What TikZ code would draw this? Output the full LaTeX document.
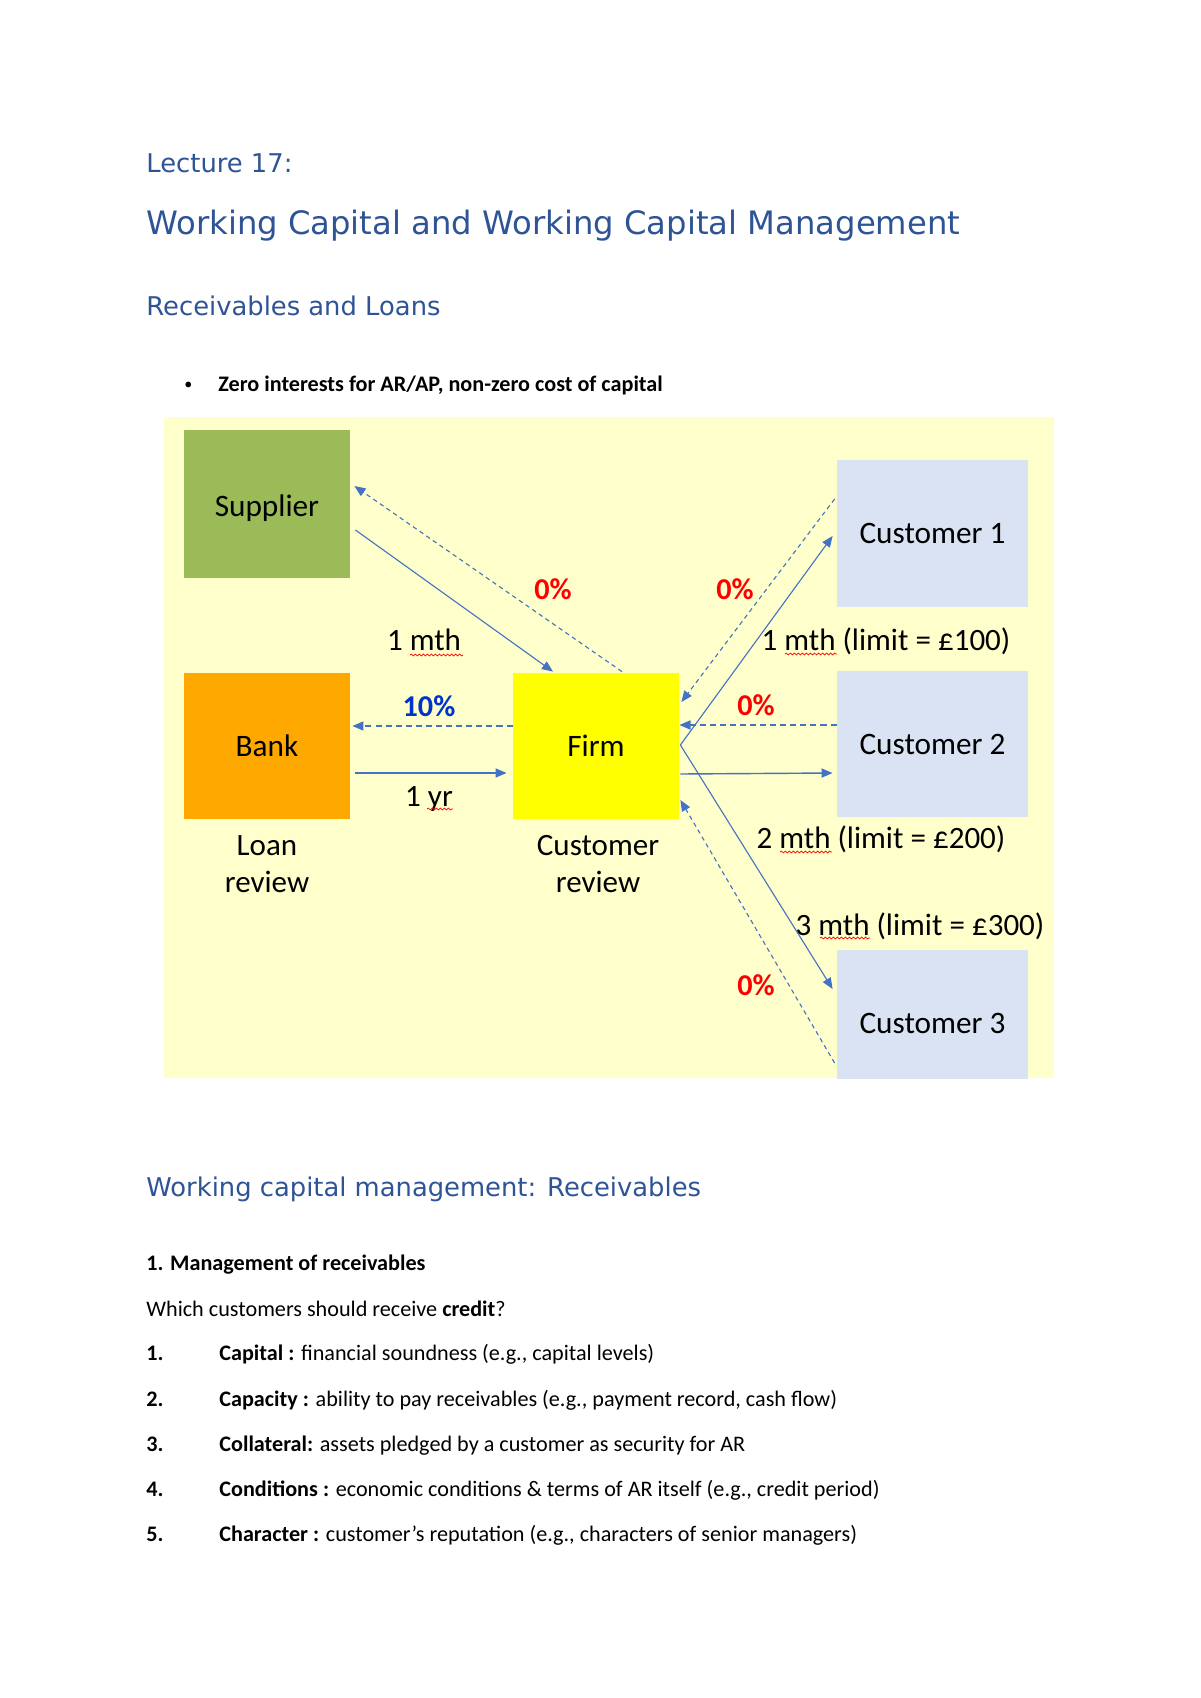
\documentclass[tikz,border=0pt]{standalone}
\usepackage{fontspec}
\setmainfont{Carlito}
\newfontfamily\headfont{DejaVu Sans}
\usetikzlibrary{arrows.meta,decorations.pathmorphing}
\definecolor{headblue}{HTML}{2F5496}
\definecolor{bgyellow}{HTML}{FFFFCC}
\definecolor{supgreen}{HTML}{9BBB59}
\definecolor{bankorange}{HTML}{FFA800}
\definecolor{firmyellow}{HTML}{FFFF00}
\definecolor{custblue}{HTML}{DAE3F3}
\definecolor{linkblue}{HTML}{4472C4}
\definecolor{pctblue}{HTML}{0033CC}
\begin{document}
\begin{tikzpicture}[x=0.49608pt,y=-0.49608pt,
  box/.style={draw=none, inner sep=0pt, font=\fontsize{15.5}{18}\selectfont, text=black},
  supbox/.style={box, minimum width=82.35pt, minimum height=73.4pt},
  sqbox/.style={box, minimum width=82.35pt, minimum height=72.4pt},
  custbox/.style={box, fill=custblue, minimum width=94.75pt, minimum height=72.9pt},
  lbl/.style={inner sep=0pt, anchor=base, font=\fontsize{15.4}{18}\selectfont},
  pct/.style={inner sep=0pt, anchor=base, font=\fontsize{15}{18}\selectfont\bfseries},
  link/.style={draw=linkblue, line width=0.7pt, -{Triangle[length=5.5pt,width=4.5pt]}},
  dlink/.style={link, dash pattern=on 3pt off 2pt},
  diag/.style={link, line width=0.55pt},
  ddiag/.style={diag, dash pattern=on 2.2pt off 1.8pt},
  squig/.style={draw=red, line width=0.35pt, decorate, decoration={snake, amplitude=0.45pt, segment length=2pt}},
  head/.style={inner sep=0pt, anchor=base west, text=headblue},
  body/.style={inner sep=0pt, anchor=base west, font=\fontsize{11}{13}\selectfont}
]
\fill[white] (0,0) rectangle (1200,1698);
\path[use as bounding box] (0,0) rectangle (1200,1698);

% headings
\node[head, font=\headfont\fontsize{12.8}{15}\selectfont] (lec) at (146,173) {Lecture 17:};
\node[head, font=\headfont\fontsize{16}{19}\selectfont] (title) at (146,235) {Working Capital and Working Capital Management};
\node[head, font=\headfont\fontsize{12.8}{15}\selectfont] (h2) at (146,316) {Receivables and Loans};
\node[body, font=\fontsize{8}{10}\selectfont] (bul) at (184,390) {•};
\node[body, font=\fontsize{11}{13}\selectfont\bfseries] (bultxt) at (218,392) {Zero interests for AR/AP, non-zero cost of capital};

% diagram background
\fill[bgyellow] (164,417) rectangle (1054,1078);

% boxes
\node[supbox, fill=supgreen] (sup) at (267,504) {\raisebox{-6pt}[0pt][0pt]{Supplier}};
\node[sqbox, fill=bankorange] (bank) at (267,746) {Bank};
\node[sqbox, fill=firmyellow] (firm) at (596,746) {Firm};
\node[custbox] (c1) at (932.5,533.5) {Customer 1};
\node[custbox] (c2) at (932.5,744) {Customer 2};
\begin{scope}
\clip (164,417) rectangle (1054,1078);
\node[custbox] (c3) at (932.5,1023.5) {Customer 3};
\end{scope}

% connectors
\draw[diag] ([shift={(5,26)}]sup.east) -- ([shift={(-43,-1)}]firm.north);
\draw[ddiag] ([shift={(26,-1)}]firm.north) -- ([shift={(4,-18)}]sup.east);
\draw[dlink] ([shift={(0,-20)}]firm.west) -- ([shift={(2,-20)}]bank.east);
\draw[link] ([shift={(5,27)}]bank.east) -- ([shift={(-6,27)}]firm.west);
\draw[ddiag] ([shift={(-2,-34.5)}]c1.west) -- ([shift={(2,-44)}]firm.east);
\draw[diag] ([shift={(1,-1)}]firm.east) -- ([shift={(-4,2.5)}]c1.west);
\draw[dlink] ([shift={(0,-19)}]c2.west) -- ([shift={(0,-21)}]firm.east);
\draw[link] ([shift={(1,28)}]firm.east) -- ([shift={(-4,29)}]c2.west);
\draw[diag] ([shift={(1,-1)}]firm.east) -- ([shift={(-4,-34.5)}]c3.west);
\draw[ddiag] ([shift={(-2,39.5)}]c3.west) -- ([shift={(1,54)}]firm.east);

% labels
\node[pct, text=red] (p1) at (553,599) {0\%};
\node[lbl] (l1) at (424,650) {1 mth};
\node[pct, text=pctblue] (p10) at (429,716) {10\%};
\node[lbl] (lyr) at (429,806) {1 yr};
\node[pct, text=red] (p2) at (735,599) {0\%};
\node[lbl] (lc1) at (886,650) {1 mth (limit = £100)};
\node[pct, text=red] (p3) at (756,715) {0\%};
\node[lbl] (lc2) at (881,848) {2 mth (limit = £200)};
\node[lbl] (lc3) at (920,935) {3 mth (limit = £300)};
\node[pct, text=red] (p4) at (756,995) {0\%};
\node[lbl] (loan) at (267,855) {Loan};
\node[lbl] (loanr) at (267,892) {review};
\node[lbl] (cust) at (598,855) {Customer};
\node[lbl] (custr) at (598,892) {review};

% spell-check squiggles
\draw[squig] (410,655) -- (463,655);
\draw[squig] (427,809) -- (453,809);
\draw[squig] (785,654) -- (837,654);
\draw[squig] (780,852) -- (832,852);
\draw[squig] (820,938) -- (870,938);

% lower section
\node[head, font=\headfont\fontsize{12.8}{15}\selectfont] (h3) at (146,1196) {Working capital management: Receivables};
\node[body, font=\fontsize{11}{13}\selectfont\bfseries] (mgmt) at (146,1270) {1. Management of receivables};
\node[body] (which) at (146,1316) {Which customers should receive \textbf{credit}?};
\node[body, font=\fontsize{11}{13}\selectfont\bfseries] (n1) at (146,1360) {1.};
\node[body] (t1) at (219,1360) {\textbf{Capital :} financial soundness (e.g., capital levels)};
\node[body, font=\fontsize{11}{13}\selectfont\bfseries] (n2) at (146,1406.5) {2.};
\node[body] (t2) at (219,1406.5) {\textbf{Capacity :} ability to pay receivables (e.g., payment record, cash flow)};
\node[body, font=\fontsize{11}{13}\selectfont\bfseries] (n3) at (146,1451.7) {3.};
\node[body] (t3) at (219,1451.7) {\textbf{Collateral:} assets pledged by a customer as security for AR};
\node[body, font=\fontsize{11}{13}\selectfont\bfseries] (n4) at (146,1496.7) {4.};
\node[body] (t4) at (219,1496.7) {\textbf{Conditions :} economic conditions \& terms of AR itself (e.g., credit period)};
\node[body, font=\fontsize{11}{13}\selectfont\bfseries] (n5) at (146,1541.7) {5.};
\node[body] (t5) at (219,1541.7) {\textbf{Character :} customer’s reputation (e.g., characters of senior managers)};
\end{tikzpicture}
\end{document}
